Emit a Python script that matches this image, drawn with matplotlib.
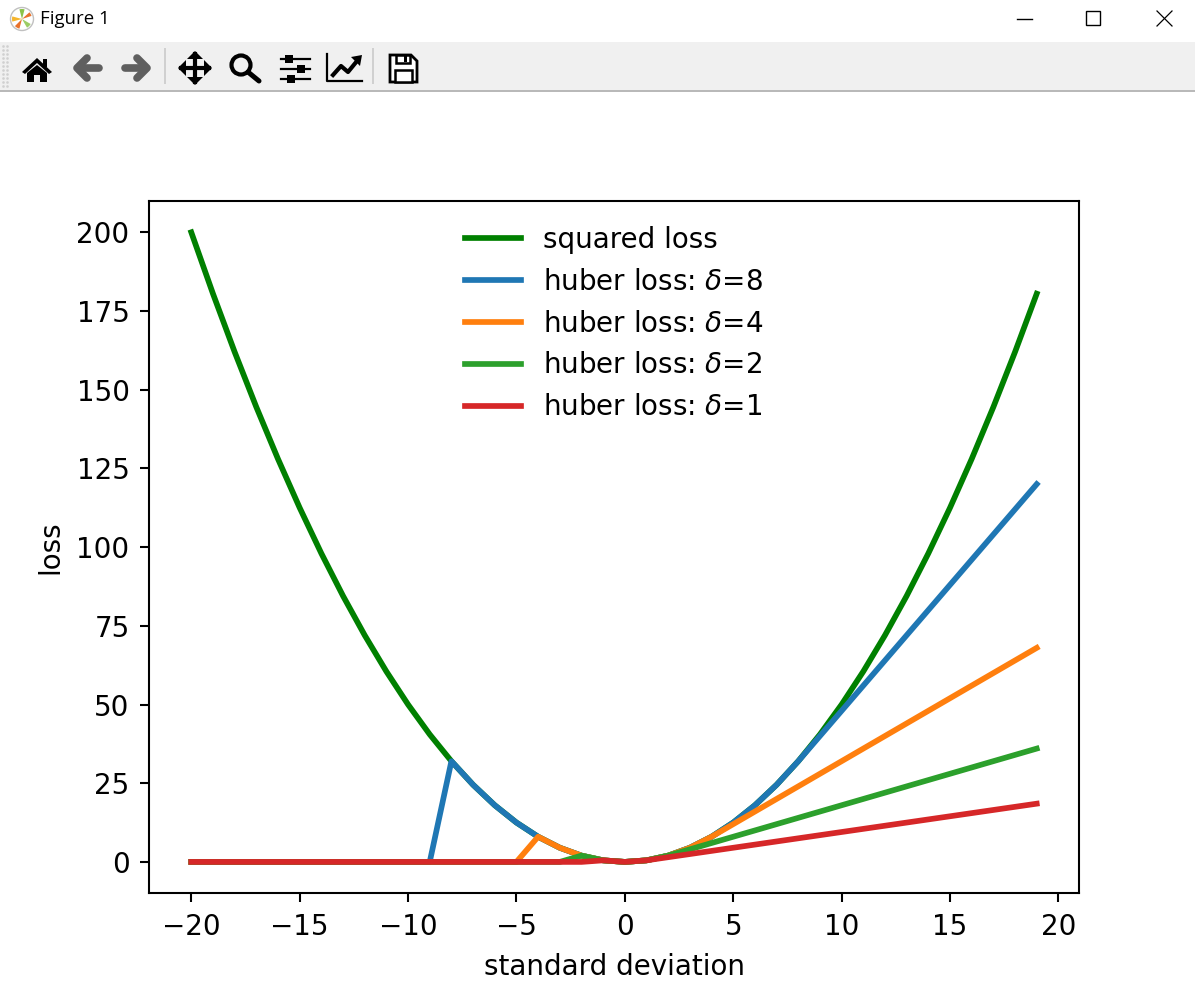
import matplotlib
matplotlib.use('Agg')
import matplotlib.pyplot as plt
from matplotlib.patches import Circle, Polygon, Rectangle, Wedge

x = [-20, -19, -18, -17, -16, -15, -14, -13, -12, -11, -10, -9, -8, -7, -6, -5, -4, -3, -2, -1,
     0, 1, 2, 3, 4, 5, 6, 7, 8, 9, 10, 11, 12, 13, 14, 15, 16, 17, 18, 19]
squared = [200, 180.5, 162, 144.5, 128, 112.5, 98, 84.5, 72, 60.5, 50, 40.5, 32, 24.5, 18, 12.5, 8, 4.5, 2, 0.5,
           0, 0.5, 2, 4.5, 8, 12.5, 18, 24.5, 32, 40.5, 50, 60.5, 72, 84.5, 98, 112.5, 128, 144.5, 162, 180.5]
huber_8 = [0, 0, 0, 0, 0, 0, 0, 0, 0, 0, 0, 0, 32, 24.5, 18, 12.5, 8, 4.5, 2, 0.5,
           0, 0.5, 2, 4.5, 8, 12.5, 18, 24.5, 32, 40, 48, 56, 64, 72, 80, 88, 96, 104, 112, 120]
huber_4 = [0, 0, 0, 0, 0, 0, 0, 0, 0, 0, 0, 0, 0, 0, 0, 0, 8, 4.5, 2, 0.5,
           0, 0.5, 2, 4.5, 8, 12, 16, 20, 24, 28, 32, 36, 40, 44, 48, 52, 56, 60, 64, 68]
huber_2 = [0, 0, 0, 0, 0, 0, 0, 0, 0, 0, 0, 0, 0, 0, 0, 0, 0, 0, 2, 0.5,
           0, 0.5, 2, 4, 6, 8, 10, 12, 14, 16, 18, 20, 22, 24, 26, 28, 30, 32, 34, 36]
huber_1 = [0, 0, 0, 0, 0, 0, 0, 0, 0, 0, 0, 0, 0, 0, 0, 0, 0, 0, 0, 0.5,
           0, 0.5, 1.5, 2.5, 3.5, 4.5, 5.5, 6.5, 7.5, 8.5, 9.5, 10.5, 11.5, 12.5, 13.5, 14.5, 15.5, 16.5, 17.5, 18.5]

W, H = 1195, 989
SCALE = 1195 / 640
plt.rcParams['font.size'] = 20
plt.rcParams['axes.linewidth'] = 0.8 * SCALE
for tick in ['xtick', 'ytick']:
    plt.rcParams[tick + '.major.size'] = 3.5 * SCALE
    plt.rcParams[tick + '.major.width'] = 0.8 * SCALE
    plt.rcParams[tick + '.major.pad'] = 4 * SCALE
plt.rcParams['axes.labelpad'] = 4.5 * SCALE

fig = plt.figure(figsize=(W / 100, H / 100), dpi=100)
ax = fig.add_axes([149 / W, 1 - 893.4 / H, 930 / W, 692.6 / H])

lw = 4.1
ax.plot(x, squared, color='g', lw=lw, label='squared loss')
ax.plot(x, huber_8, color='C0', lw=lw, label=r'huber loss: $\delta$=8')
ax.plot(x, huber_4, color='C1', lw=lw, label=r'huber loss: $\delta$=4')
ax.plot(x, huber_2, color='C2', lw=lw, label=r'huber loss: $\delta$=2')
ax.plot(x, huber_1, color='C3', lw=lw, label=r'huber loss: $\delta$=1')
ax.set_xlabel('standard deviation')
ax.set_ylabel('loss')
ax.legend(loc='upper center', frameon=False)

# window title bar and toolbar, in screen pixels
ui = fig.add_axes([0, 0, 1, 1], zorder=5)
ui.set_xlim(0, W)
ui.set_ylim(H, 0)
ui.axis('off')
ui.add_patch(Rectangle((0, 42), W, 48, color='#f0f0f0', lw=0))
ui.add_patch(Rectangle((0, 90), W, 2, color='#b9b9b9', lw=0))

# app icon
ui.add_patch(Circle((22, 19), 11.5, fc='white', ec='#c0c0c0', lw=1))
for a1, a2, c in [(105, 135, '#e8722c'), (165, 195, '#f5b52c'), (318, 342, '#e8722c'),
                  (30, 60, '#9ccc65'), (255, 285, '#8bc34a')]:
    ui.add_patch(Wedge((22, 19), 10, a1, a2, fc=c, lw=0))
ui.text(40, 18.5, 'Figure 1', fontsize=13.4, family='Open Sans', va='center', ha='left')

# window buttons
ui.plot([1017, 1032], [19, 19], color='black', lw=1)
ui.add_patch(Rectangle((1086, 11), 14, 14, fc='none', ec='black', lw=1))
ui.plot([1157, 1172], [11, 26], color='black', lw=0.9)
ui.plot([1157, 1172], [26, 11], color='black', lw=0.9)

# grip
for gy in range(46, 88, 4):
    ui.plot([3, 7], [gy, gy], color='#d0d0d0', marker='s', ms=0.8, ls='none')

# home
ui.add_patch(Polygon([(22, 72), (37, 58), (52, 72), (49, 74), (37, 63), (25, 74)], fc='black', lw=0))
ui.add_patch(Polygon([(27, 73), (37, 65), (47, 73), (47, 82), (40, 82), (40, 75), (34, 75), (34, 82), (27, 82)],
                     fc='black', lw=0))
ui.add_patch(Rectangle((43, 59), 4, 8, fc='black', lw=0))

# back and forward arrows
grey = '#5f5f5f'
ui.plot([99, 80], [68, 68], color=grey, lw=5.5, solid_capstyle='round')
ui.plot([87, 77, 87], [58, 68, 78], color=grey, lw=5.5, solid_capstyle='round', solid_joinstyle='round')
ui.plot([125, 144], [68, 68], color=grey, lw=5.5, solid_capstyle='round')
ui.plot([137, 147, 137], [58, 68, 78], color=grey, lw=5.5, solid_capstyle='round', solid_joinstyle='round')

# separators
for sx in [165, 373]:
    ui.add_patch(Rectangle((sx - 1, 48), 2, 36, color='#d0d0d0', lw=0))

# move
ui.plot([181, 209], [68, 68], color='black', lw=3)
ui.plot([195, 195], [54, 82], color='black', lw=3)
for pts in [[(178, 68), (186, 60), (186, 76)], [(212, 68), (204, 60), (204, 76)],
            [(195, 51), (187, 59), (203, 59)], [(195, 85), (187, 77), (203, 77)]]:
    ui.add_patch(Polygon(pts, fc='black', lw=0))

# zoom
ui.add_patch(Circle((241, 65), 9.5, fc='none', ec='black', lw=3))
ui.plot([248, 259], [72, 81], color='black', lw=3.6, solid_capstyle='round')

# sliders
for sy, kx in [(59, 289), (69, 301), (79, 291)]:
    ui.plot([281, 310], [sy, sy], color='black', lw=1.6)
    ui.add_patch(Rectangle((kx - 4, sy - 4), 8, 8, fc='black', lw=0))

# chart
ui.plot([327.5, 327.5, 362], [54, 81, 81], color='black', lw=1.6)
ui.plot([333, 341, 348, 357], [75, 66, 72, 61], color='black', lw=3)
ui.add_patch(Polygon([(351, 57), (362, 55), (360, 66)], fc='black', lw=0))

# save
ui.add_patch(Polygon([(390, 55), (411, 55), (417, 61), (417, 82), (390, 82)], fc='white', ec='black', lw=2))
ui.add_patch(Rectangle((396, 55), 14, 8, fc='white', ec='black', lw=1.8))
ui.add_patch(Rectangle((404, 56), 3, 6, fc='black', lw=0))
ui.add_patch(Rectangle((395, 70), 17, 12, fc='white', ec='black', lw=1.8))

fig.savefig('out.png', dpi=100)
